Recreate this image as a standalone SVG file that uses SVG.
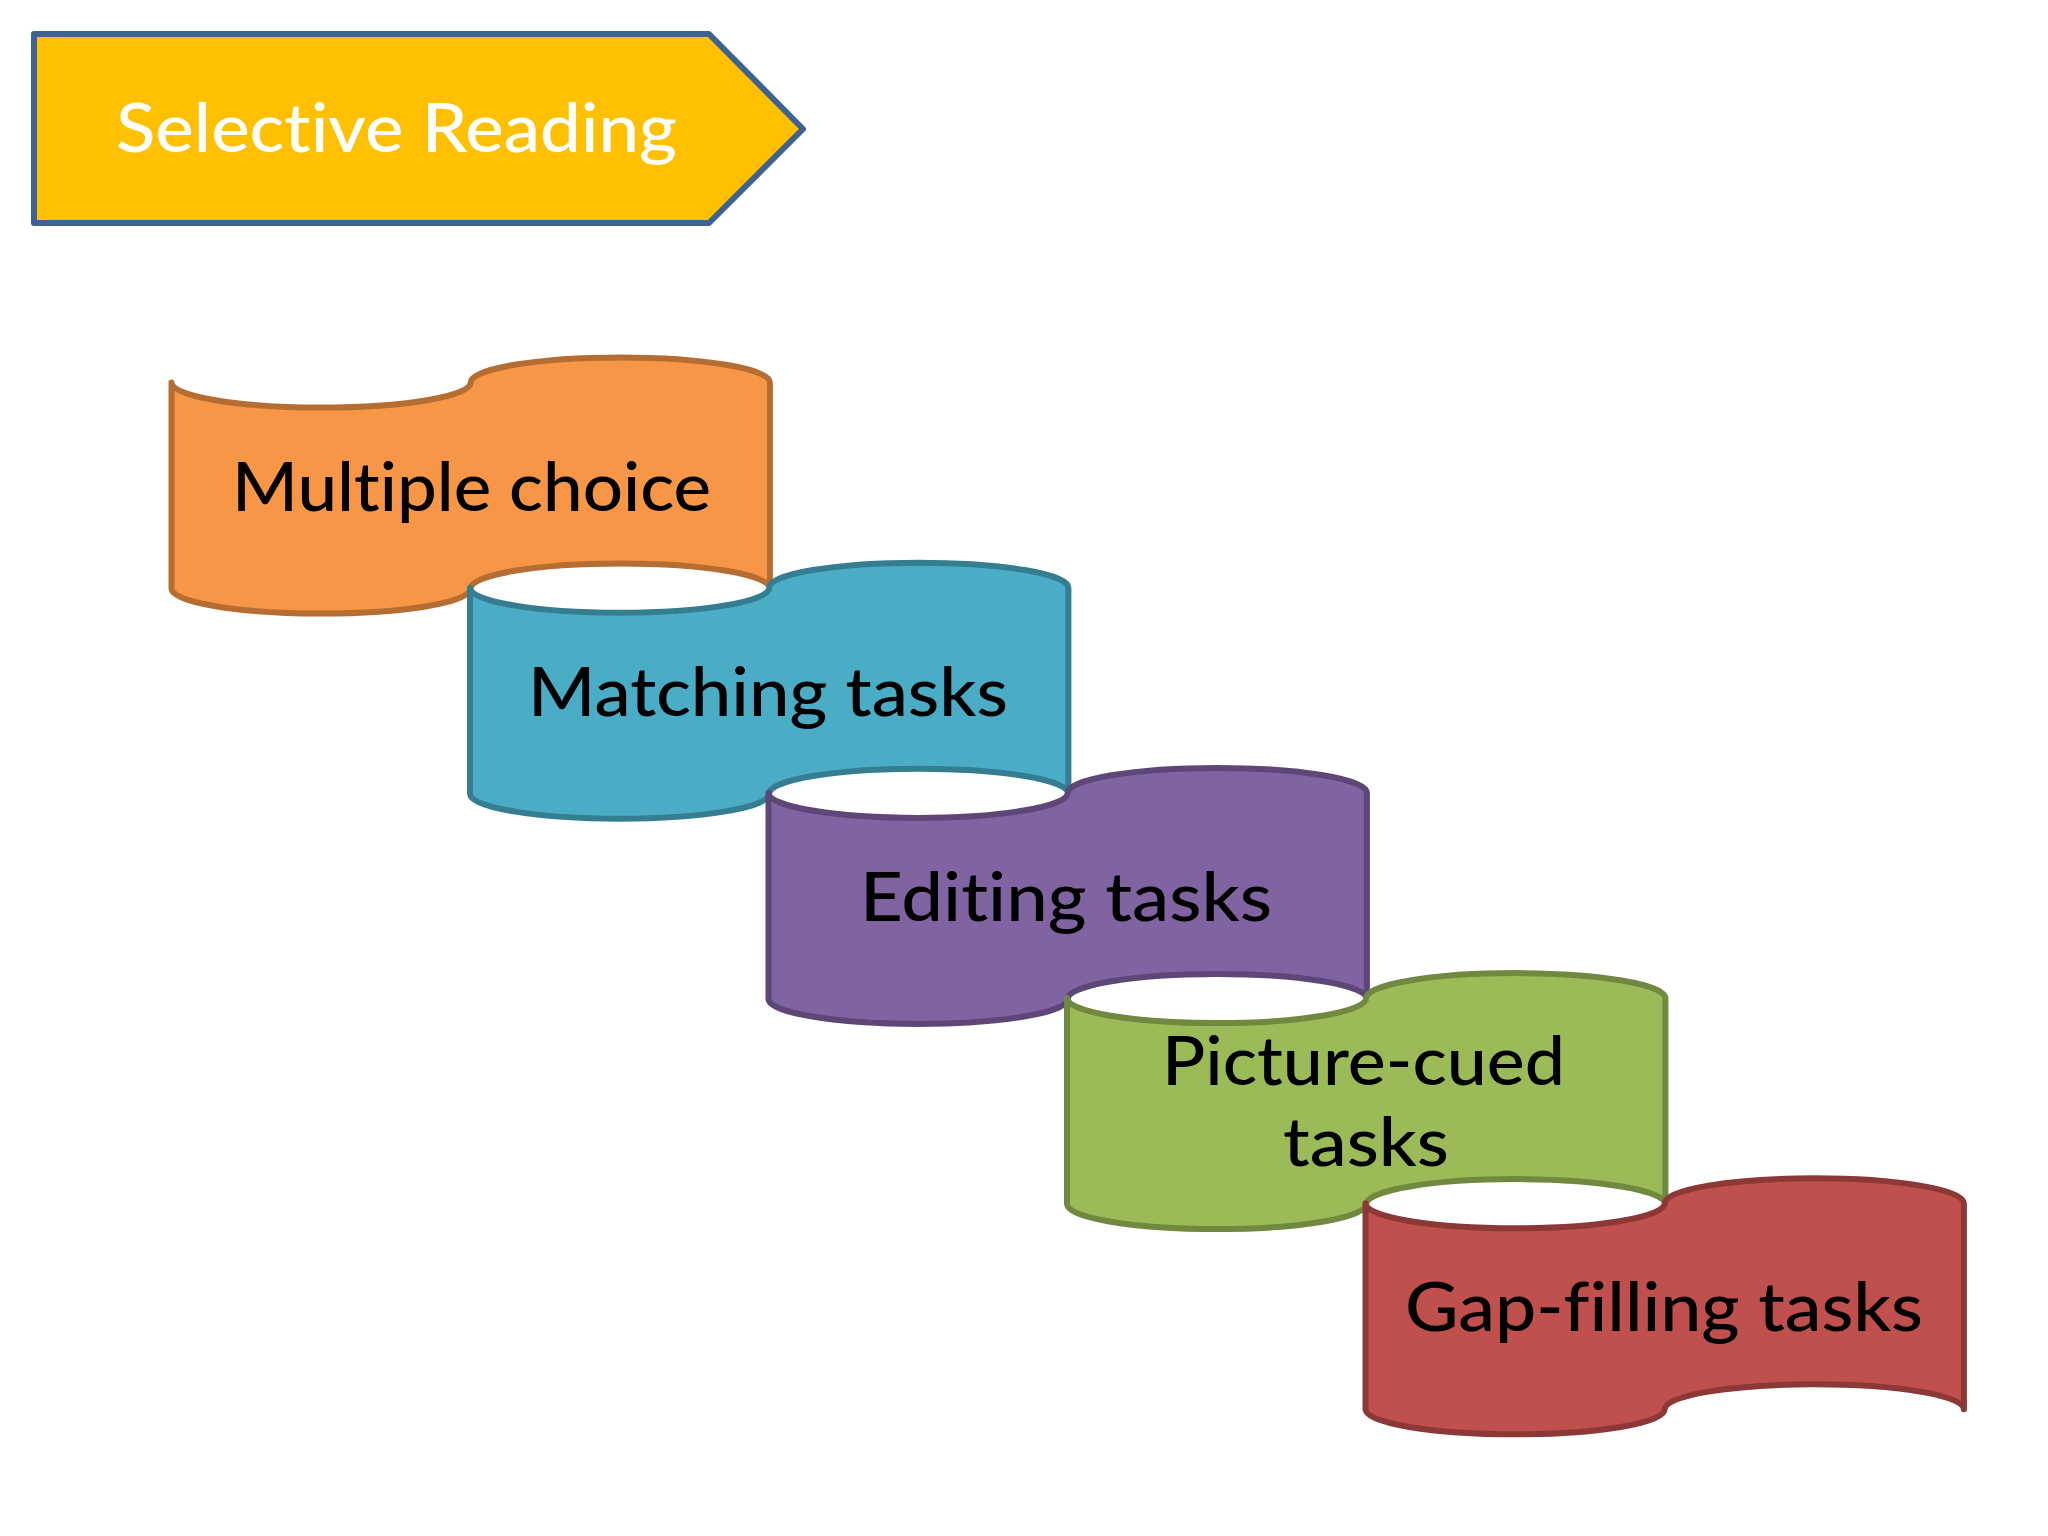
<svg xmlns="http://www.w3.org/2000/svg" width="2048" height="1536" viewBox="0 0 2048 1536">
<style>
.b{stroke-width:6;stroke-linejoin:round}
.t{font-family:"Lato","Open Sans",sans-serif;font-size:67px;font-weight:500;fill:#000;text-anchor:start;font-variant-ligatures:none}
</style>
<defs>
<path id="tape" d="M0 0A149.6 25 0 0 0 299.2 0A149.6 25 0 0 1 598.4 0V206A149.6 25 0 0 0 299.2 206A149.6 25 0 0 1 0 206Z"/>
</defs>
<rect width="2048" height="1536" fill="#fff"/>
<g id="title">
<path d="M34 34H709L803 129L709 223H34Z" fill="#FFC000" stroke="#3F6290" stroke-width="6" stroke-linejoin="round"/>
<text x="116" y="152" class="t" style="fill:#fff" textLength="561" lengthAdjust="spacingAndGlyphs">Selective Reading</text>
</g>
<g id="connectors"></g>
<g id="multiple-choice">
<use href="#tape" x="171.5" y="382.5" class="b" fill="#F79646" stroke="#B66D31"/>
<text x="232" y="511" class="t" textLength="479" lengthAdjust="spacingAndGlyphs">Multiple choice</text>
</g>
<g id="matching-tasks">
<use href="#tape" x="470" y="587.7" class="b" fill="#4BACC6" stroke="#357D91"/>
<text x="528" y="716" class="t" textLength="480" lengthAdjust="spacingAndGlyphs">Matching tasks</text>
</g>
<g id="editing-tasks">
<use href="#tape" x="768.5" y="792.9" class="b" fill="#8064A2" stroke="#5C4776"/>
<text x="860" y="921" class="t" textLength="412" lengthAdjust="spacingAndGlyphs">Editing tasks</text>
</g>
<g id="picture-cued-tasks">
<use href="#tape" x="1067" y="998.1" class="b" fill="#9BBB59" stroke="#71893F"/>
<text x="1162" y="1085" class="t" textLength="403" lengthAdjust="spacingAndGlyphs">Picture-cued</text>
<text x="1283" y="1166" class="t" textLength="166" lengthAdjust="spacingAndGlyphs">tasks</text>
</g>
<g id="gap-filling-tasks">
<use href="#tape" x="1365.5" y="1203.3" class="b" fill="#C0504D" stroke="#8C3836"/>
<text x="1405" y="1331" class="t" textLength="518" lengthAdjust="spacingAndGlyphs">Gap-filling tasks</text>
</g>
</svg>
